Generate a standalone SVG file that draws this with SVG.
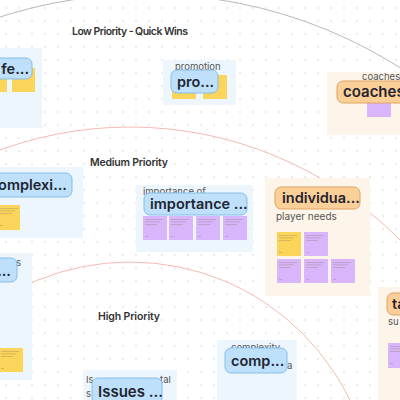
<svg xmlns="http://www.w3.org/2000/svg" width="400" height="400" viewBox="0 0 400 400">
<defs>
<pattern id="dots" x="-0.5" y="1.5" width="13" height="13" patternUnits="userSpaceOnUse">
<circle cx="6.5" cy="6.5" r="0.75" fill="#c9c9c9"/>
</pattern>
<g id="lines">
<rect x="2" y="3" width="18" height="0.8" fill="#8a7a60" opacity="0.4"/>
<rect x="2" y="5.5" width="15" height="0.8" fill="#8a7a60" opacity="0.4"/>
<rect x="2" y="8" width="12" height="0.8" fill="#8a7a60" opacity="0.4"/>
<rect x="2" y="20" width="3" height="0.8" fill="#8a7a60" opacity="0.4"/>
</g>
</defs>
<style>
.bf{fill:#eef6fd}
.cf{fill:#fdf4ea}
.ys{fill:#fbd45a}
.ps{fill:#d9b5fb}
.bp{fill:#bee0fa;stroke:#86bde9;stroke-width:1}
.op{fill:#fbcf98;stroke:#dea464;stroke-width:1}
.pt{font-family:Inter,"Liberation Sans",sans-serif;font-weight:600;font-size:14.5px;fill:#1f2430}
.gt{font-family:Inter,"Liberation Sans",sans-serif;font-size:9.5px;fill:#555}
.sl{font-family:Inter,"Liberation Sans",sans-serif;font-weight:600;font-size:10.5px;fill:#333}
.arc{fill:none;stroke-width:0.9}
</style>
<rect width="400" height="400" fill="#ffffff"/>
<rect width="400" height="400" fill="url(#dots)"/>

<g id="rings">
<circle class="arc" cx="146" cy="469" r="475" stroke="#b0b0b0"/>
<circle class="arc" cx="130" cy="506" r="379" stroke="#f4b2a8"/>
<circle class="arc" cx="130" cy="506" r="244" stroke="#f4b2a8"/>
</g>

<g id="labels">
<text class="sl" x="72" y="35" textLength="116">Low Priority - Quick Wins</text>
<text class="sl" x="90" y="166" textLength="78">Medium Priority</text>
<text class="sl" x="98" y="320" textLength="62">High Priority</text>
</g>

<g id="fe">
<rect class="bf" x="-5" y="48" width="47" height="80"/>
<rect class="ys" x="-17" y="68" width="24" height="24"/>
<rect class="ys" x="12" y="68" width="23" height="24"/>
<rect class="bp" x="-20" y="58" width="52" height="21" rx="6"/>
<text class="pt" x="29" y="74" text-anchor="end">fe...</text>
</g>

<g id="promotion">
<rect class="bf" x="163" y="60" width="73" height="45"/>
<text class="gt" x="175" y="70">promotion</text>
<rect class="ys" x="172" y="75" width="24" height="24"/>
<rect class="ys" x="203" y="75" width="24" height="24"/>
<rect class="bp" x="171" y="70" width="47" height="23" rx="6"/>
<text class="pt" x="177" y="87">pro...</text>
</g>

<g id="coaches">
<rect class="cf" x="327" y="72" width="80" height="63"/>
<text class="gt" x="362" y="80">coaches</text>
<rect class="ps" x="367" y="93" width="24" height="24"/>
<rect class="op" x="337" y="81" width="80" height="22" rx="6"/>
<text class="pt" x="343" y="97" style="font-size:15px">coaches</text>
</g>

<g id="complexity-left">
<rect class="bf" x="-5" y="167" width="88" height="71"/>
<rect class="ys" x="-4" y="205" width="24" height="25"/>
<use href="#lines" x="-2" y="205"/>
<rect class="bp" x="-20" y="173" width="92" height="24" rx="6"/>
<text class="pt" x="67" y="190" text-anchor="end">complexi...</text>
</g>

<g id="left-bottom">
<rect class="bf" x="-5" y="253" width="37" height="127"/>
<text class="gt" x="16" y="266">s</text>
<rect class="ys" x="-2" y="348" width="25" height="24"/>
<use href="#lines" x="-1" y="348"/>
<rect class="bp" x="-20" y="258" width="37" height="24" rx="6"/>
<text class="pt" x="11" y="276" text-anchor="end">...</text>
</g>

<g id="importance">
<rect class="bf" x="136" y="185" width="117" height="67"/>
<text class="gt" x="143" y="195">importance of</text>
<rect class="ps" x="143" y="216" width="24" height="24"/>
<rect class="ps" x="169" y="216" width="24" height="24"/>
<rect class="ps" x="196" y="216" width="24" height="24"/>
<rect class="ps" x="223" y="216" width="24" height="24"/>
<use href="#lines" x="143" y="216"/>
<use href="#lines" x="169" y="216"/>
<use href="#lines" x="196" y="216"/>
<use href="#lines" x="223" y="216"/>
<rect class="bp" x="144" y="193" width="103" height="22" rx="6"/>
<text class="pt" x="150" y="209">importance ...</text>
</g>

<g id="individual">
<rect class="cf" x="265" y="178" width="105" height="118"/>
<rect class="op" x="275" y="187" width="85" height="22" rx="6"/>
<text class="pt" x="282" y="203">individua...</text>
<text class="gt" x="276" y="220" style="font-size:10px">player needs</text>
<rect class="ys" x="277" y="232" width="24" height="24"/>
<rect class="ps" x="304" y="232" width="24" height="24"/>
<rect class="ps" x="277" y="259" width="24" height="24"/>
<rect class="ps" x="304" y="259" width="24" height="24"/>
<rect class="ps" x="331" y="259" width="24" height="24"/>
<use href="#lines" x="277" y="232"/>
<use href="#lines" x="304" y="232"/>
<use href="#lines" x="277" y="259"/>
<use href="#lines" x="304" y="259"/>
<use href="#lines" x="331" y="259"/>
</g>

<g id="ta">
<rect class="cf" x="378" y="287" width="30" height="120"/>
<rect class="op" x="387" y="293" width="30" height="22" rx="6"/>
<text class="pt" x="392" y="309">ta</text>
<text class="gt" x="388" y="325">su</text>
<rect class="ps" x="388" y="343" width="24" height="25"/>
<use href="#lines" x="388" y="343"/>
</g>

<g id="comp">
<rect class="bf" x="217" y="340" width="80" height="65"/>
<text class="gt" x="231" y="351">complexity</text>
<text class="gt" x="287" y="369">a</text>
<rect class="bp" x="225" y="348" width="62" height="25" rx="6"/>
<text class="pt" x="231" y="366">comp...</text>
</g>

<g id="issues">
<rect class="bf" x="83" y="370" width="94" height="35"/>
<text class="gt" x="86" y="383">Is</text>
<text class="gt" x="160" y="383">tal</text>
<text class="gt" x="86" y="397">s</text>
<rect class="bp" x="92" y="378" width="70" height="26" rx="6"/>
<text class="pt" x="98" y="397" style="font-size:15px">Issues ...</text>
</g>
</svg>
